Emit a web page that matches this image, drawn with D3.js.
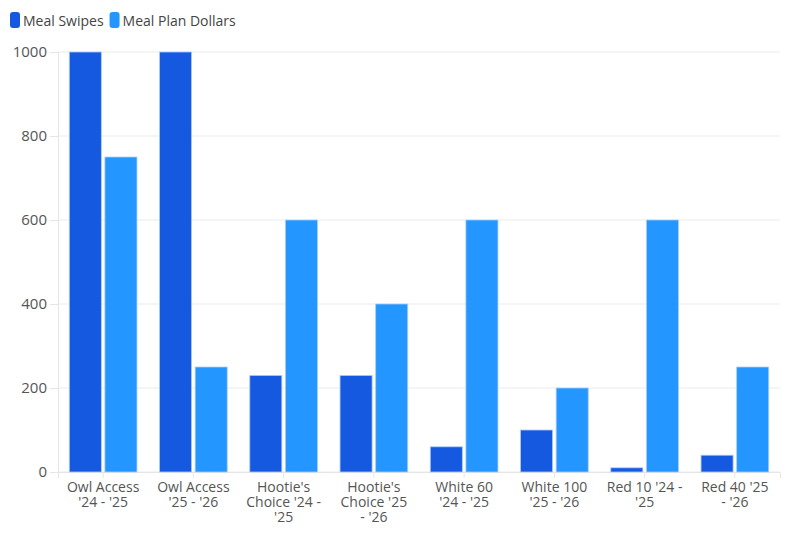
<!DOCTYPE html>
<html>
<head>
<meta charset="utf-8">
<script src="https://cdn.jsdelivr.net/npm/d3@7"></script>
<style>
  body { margin: 0; background: #fff; font-family: "Open Sans", "Noto Sans", sans-serif; }
</style>
</head>
<body>
<div id="chart"></div>
<script>
const categories = [
  ["Owl Access", "'24 - '25"],
  ["Owl Access", "'25 - '26"],
  ["Hootie's", "Choice '24 -", "'25"],
  ["Hootie's", "Choice '25", "- '26"],
  ["White 60", "'24 - '25"],
  ["White 100", "'25 - '26"],
  ["Red 10 '24 -", "'25"],
  ["Red 40 '25", "- '26"]
];
const seriesNames = ["Meal Swipes", "Meal Plan Dollars"];
const mealSwipes = [1000, 1000, 230, 230, 60, 100, 10, 40];
const mealPlanDollars = [750, 250, 600, 400, 600, 200, 600, 250];
const yTicks = [0, 200, 400, 600, 800, 1000];
const colors = ["#1559e0", "#2397ff"];

const W = 794, H = 538;
const margin = {top: 52, right: 14, bottom: 66, left: 58};
const width = W - margin.left - margin.right,
    height = H - margin.top - margin.bottom;

const svg = d3.select("#chart").append("svg")
    .attr("width", W).attr("height", H);

const g = svg.append("g").attr("transform", `translate(${margin.left},${margin.top})`);

const keys = categories.map((d, i) => i);
const x = d3.scaleBand().domain(keys).range([0, width]).paddingInner(0.25).paddingOuter(0.125);
const xSub = d3.scaleBand().domain([0, 1]).range([0, x.bandwidth()]).paddingInner(0.1);
const y = d3.scaleLinear().domain([0, 1000]).range([height, 0]);

// gridlines
g.selectAll(".grid").data(yTicks).join("line")
    .attr("x1", 0).attr("x2", width)
    .attr("y1", d => y(d)).attr("y2", d => y(d))
    .attr("stroke", "#ebebeb").attr("stroke-width", 1);

// y axis
const yAxis = g.append("g").call(d3.axisLeft(y).tickValues(yTicks).tickFormat(d3.format("d")).tickSize(8).tickPadding(3));
yAxis.select(".domain").attr("stroke", "#e6e6e6");
yAxis.selectAll(".tick line").attr("stroke", "#e6e6e6");
yAxis.selectAll(".tick text").attr("fill", "#555").attr("font-size", 15)
    .attr("font-family", "'Open Sans', sans-serif");

// x axis
const xAxis = g.append("g").attr("transform", `translate(0,${height})`)
    .call(d3.axisBottom(x).tickSize(6).tickFormat(""));
xAxis.select(".domain").attr("stroke", "#e6e6e6");
xAxis.selectAll(".tick line").attr("stroke", "#e6e6e6");
xAxis.selectAll(".tick").append("text")
    .attr("fill", "#555").attr("font-size", 14)
    .attr("font-family", "'Open Sans', sans-serif")
    .attr("text-anchor", "middle")
    .selectAll("tspan").data(i => categories[i]).join("tspan")
    .attr("x", 0).attr("y", (d, j) => 20 + j * 15)
    .text(d => d);

// bars
const data = keys.map(i => ({i, vals: [mealSwipes[i], mealPlanDollars[i]]}));
g.selectAll(".grp").data(data).join("g")
    .attr("transform", d => `translate(${x(d.i)},0)`)
  .selectAll("rect").data(d => d.vals.map((v, s) => ({v, s}))).join("rect")
    .attr("x", d => xSub(d.s))
    .attr("width", xSub.bandwidth())
    .attr("y", d => y(d.v))
    .attr("height", d => y(0) - y(d.v))
    .attr("fill", d => colors[d.s])
    .attr("stroke", "#a9cdfc").attr("stroke-width", 0.8);

// legend
const legend = svg.append("g").attr("transform", "translate(10,12)");
let lx = 0;
seriesNames.forEach((name, s) => {
  const item = legend.append("g").attr("transform", `translate(${lx},0)`);
  item.append("rect").attr("width", 10).attr("height", 16).attr("rx", 3)
      .attr("fill", colors[s]);
  const t = item.append("text").attr("x", 13).attr("y", 13.5)
      .attr("font-size", 14).attr("fill", "#444")
      .attr("font-family", "'Open Sans', sans-serif")
      .text(name);
  lx += 13 + t.node().getComputedTextLength() + 6;
});
</script>
</body>
</html>
